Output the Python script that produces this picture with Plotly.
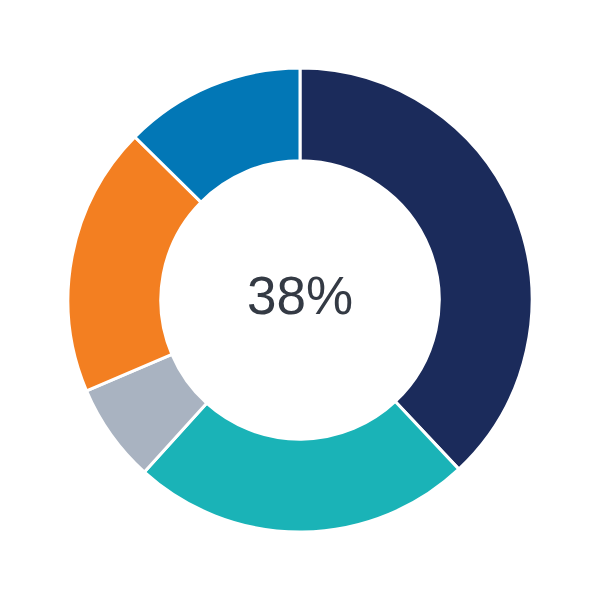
import plotly.graph_objects as go

# slice data (percent), clockwise from 12 o'clock
labels = ["Navy", "Teal", "Gray", "Orange", "Blue"]
values = [38, 23.7, 6.9, 18.8, 12.6]
colors = ["#1b2b5b", "#1ab3b7", "#a9b3c1", "#f37f21", "#0277b6"]
center_label = "38%"

fig = go.Figure()

fig.add_trace(go.Pie(
    labels=labels,
    values=values,
    hole=0.6,
    sort=False,
    direction="clockwise",
    rotation=0,
    marker=dict(colors=colors, line=dict(color="white", width=3)),
    textinfo="none",
    hoverinfo="label+percent",
    showlegend=False,
))

fig.add_annotation(
    text=center_label,
    x=0.5, y=0.5, xref="paper", yref="paper",
    yshift=5,
    showarrow=False,
    font=dict(family="Liberation Sans, Arial", size=53, color="#343a44"),
)

# page body adds ~8px offset, so shift the plot area up/left
fig.update_layout(
    width=600, height=600,
    margin=dict(l=60, r=76, t=60, b=76),
    paper_bgcolor="white",
    plot_bgcolor="white",
)

fig.write_html("out.html")
